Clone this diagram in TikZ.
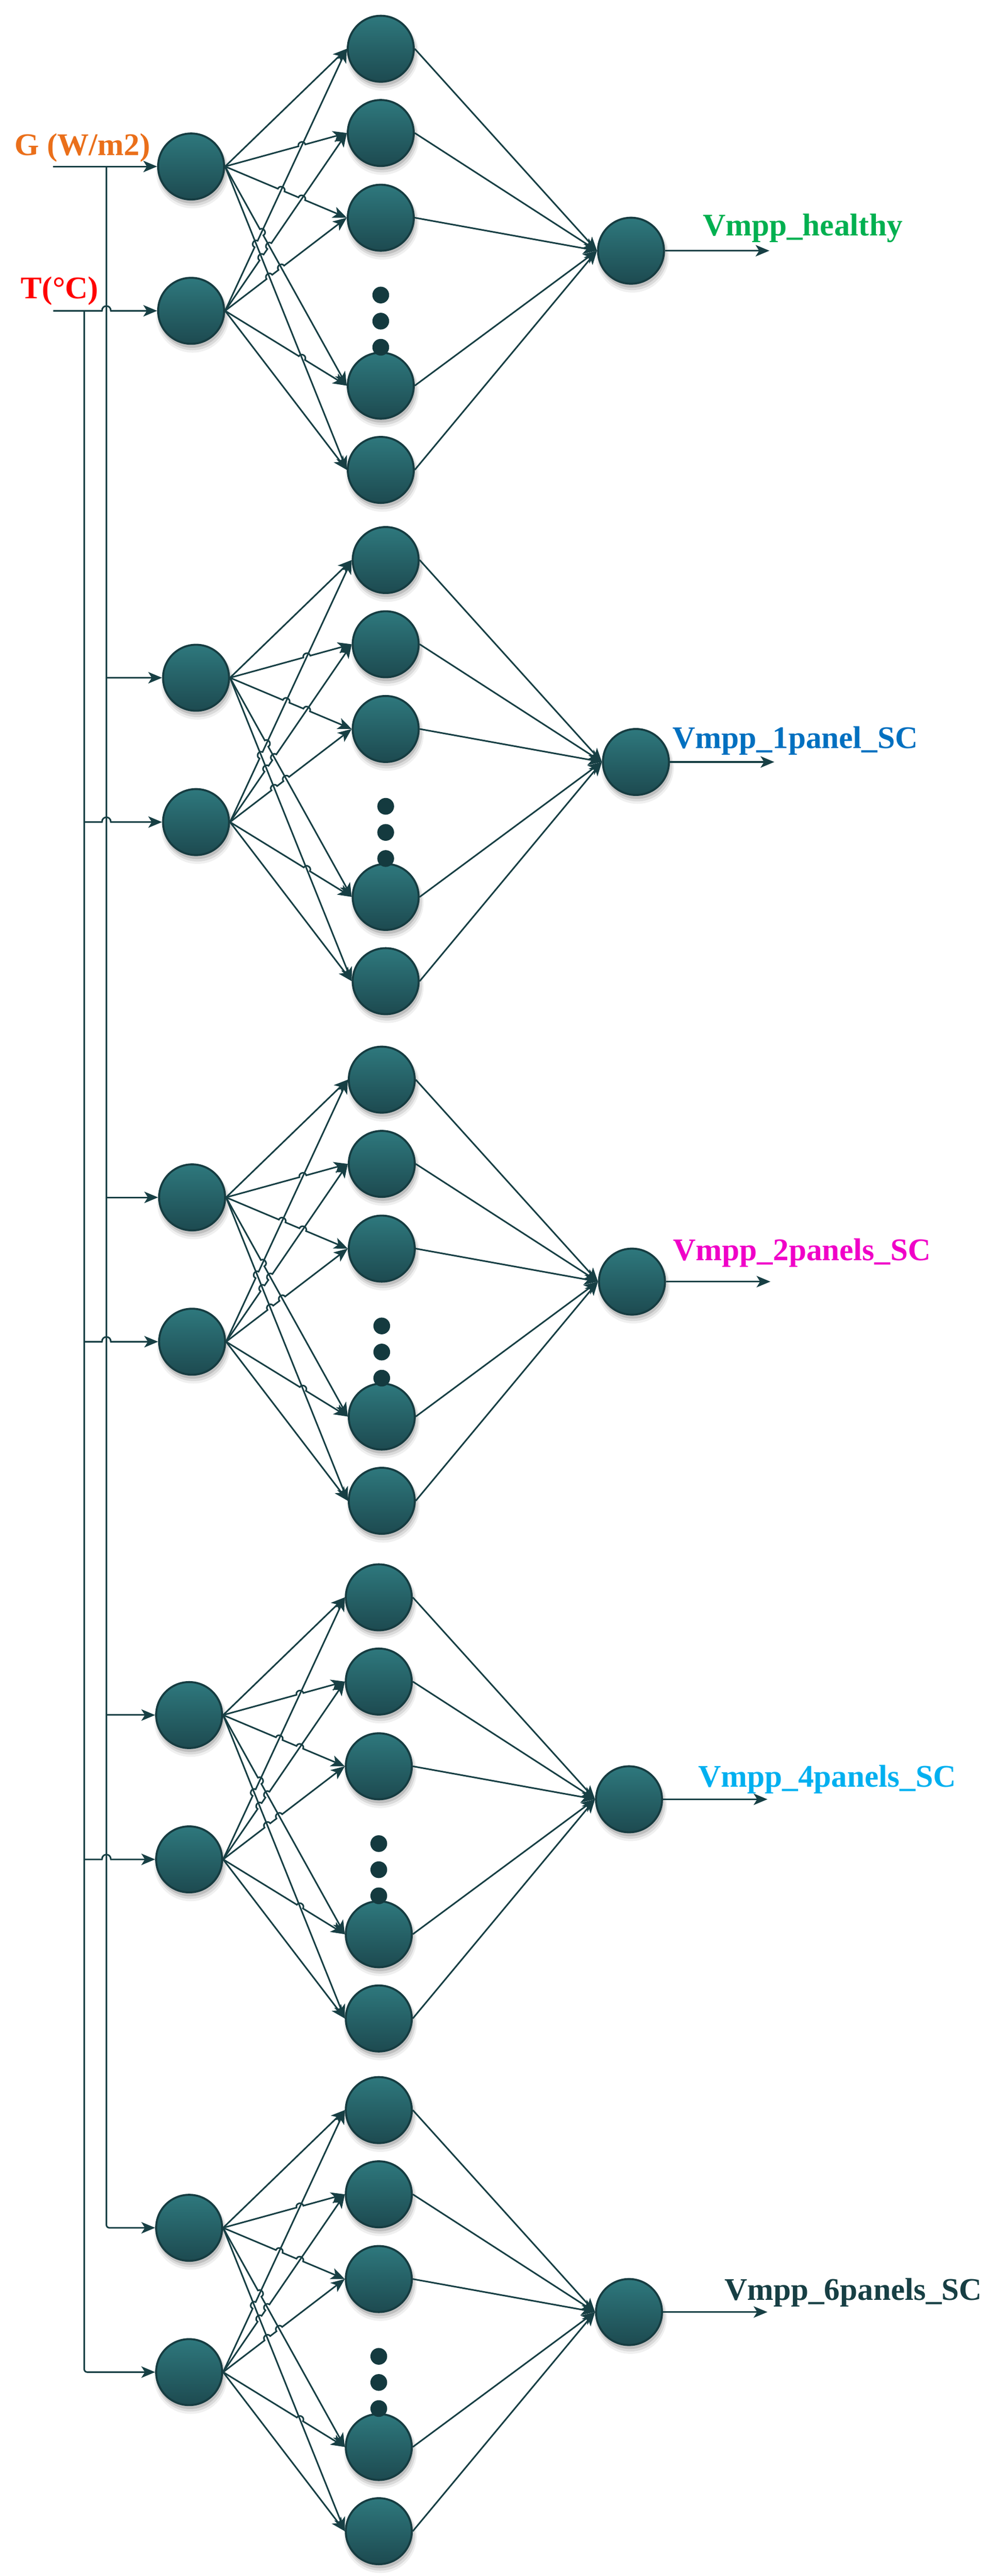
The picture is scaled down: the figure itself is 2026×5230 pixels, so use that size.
\documentclass[tikz,border=0pt]{standalone}
\usepackage{fontspec}
\setmainfont{Liberation Serif}
\usetikzlibrary{arrows.meta,calc}
\definecolor{wirec}{HTML}{173F44}
\definecolor{rimc}{HTML}{163C41}
\definecolor{topc}{HTML}{2E787D}
\definecolor{botc}{HTML}{1D4A50}
\definecolor{dotc}{HTML}{143A3F}
\definecolor{gcol}{HTML}{EA6F1A}
\definecolor{tcol}{HTML}{FF0000}
\definecolor{cone}{HTML}{00B050}
\definecolor{ctwo}{HTML}{0070C0}
\definecolor{cthree}{HTML}{F000C8}
\definecolor{cfour}{HTML}{00B0F0}
\definecolor{cfive}{HTML}{173F44}
\newcommand\NeuronAt[3]{%
  \fill[black,opacity=0.06] (#2+3,#3+11) circle[radius=74];
  \fill[black,opacity=0.09] (#2+3,#3+9) circle[radius=71];
  \fill[black,opacity=0.12] (#2+2,#3+7) circle[radius=68];
  \node[neuron] (#1) at (#2,#3) {};
}
% line from #1 to #2 with line jumps at fractions #3
\newcommand\JLine[3]{%
  \foreach \s [count=\n] in {#3}{%
    \coordinate (jp\n) at ($(#1)!\s!(#2)$);
    \coordinate (ja\n) at ($(jp\n)!1.8pt!(#1)$);
    \coordinate (jb\n) at ($(jp\n)!1.8pt!(#2)$);
    \coordinate (jc\n) at ($(ja\n)!2.3pt!90:(#2)$);
    \coordinate (jd\n) at ($(jb\n)!2.3pt!-90:(#1)$);
  }%
  \draw[wire,tip] (#1) \foreach \s [count=\n] in {#3}{ -- (ja\n) .. controls (jc\n) and (jd\n) .. (jb\n)} -- (#2);
}
\begin{document}
\begin{tikzpicture}[x=0.25pt,y=-0.25pt,
  wire/.style={draw=wirec,line width=0.8pt},
  tip/.style={-{Stealth[length=7pt,width=5.8pt,inset=1.8pt]}},
  neuron/.style={circle,minimum size=33.5pt,inner sep=0pt,draw=rimc,line width=1pt,top color=topc,bottom color=botc},
  dotn/.style={circle,minimum size=8.5pt,inner sep=0pt,fill=dotc},
  lab/.style={anchor=base west,inner sep=0pt,font=\fontsize{16pt}{19pt}\selectfont\bfseries}]
\useasboundingbox (0,0) rectangle (2026,5230);

\foreach \b/\dx/\dy in {1/0/0,2/10/1038,3/2/2093,4/-4/3144,5/-4/4185}{
  \NeuronAt{IA\b}{388+\dx}{338+\dy}
  \NeuronAt{IB\b}{388+\dx}{631+\dy}
  \foreach \h/\hy in {1/99,2/270,3/442,4/783,5/954}{
    \NeuronAt{H\b\h}{773+\dx}{\hy+\dy}
  }
  \NeuronAt{O\b}{1281+\dx}{509+\dy}
  \foreach \k/\ky in {1/599,2/652,3/705}{\node[dotn] (D\b\k) at (773+\dx,\ky+\dy) {};}
  \coordinate (E\b) at (1562+\dx,509+\dy);
  % input -> hidden (flatter line jumps at crossings)
  \draw[wire,tip] (IA\b.east) -- (H\b1.west);
  \JLine{IA\b.east}{H\b2.west}{0.631}
  \JLine{IA\b.east}{H\b3.west}{0.461,0.630}
  \JLine{IA\b.east}{H\b4.west}{0.300}
  \draw[wire,tip] (IA\b.east) -- (H\b5.west);
  \JLine{IB\b.east}{H\b1.west}{0.255}
  \JLine{IB\b.east}{H\b2.west}{0.300,0.364}
  \JLine{IB\b.east}{H\b3.west}{0.364,0.462}
  \JLine{IB\b.east}{H\b4.west}{0.631}
  \draw[wire,tip] (IB\b.east) -- (H\b5.west);
  % hidden -> output
  \foreach \h in {1,...,5}{\draw[wire,tip] (H\b\h.east) -- (O\b.west);}
  \draw[wire,tip] (O\b.east) -- (E\b);
}

\coordinate (Gin) at (108,338);
\coordinate (Gj) at (216,338);
\coordinate (Tin) at (108,631);
\coordinate (Tj) at (171,631);
\draw[wire,tip] (Gin) -- (IA1.west);
\draw[wire,tip,rounded corners=1.5pt] (Gj) |- (IA5.west);
\foreach \b in {2,3,4}{\draw[wire,tip] (Gj |- IA\b.west) -- (IA\b.west);}
\draw[wire,tip] (Tin) -- ($(Gj |- Tin)+(-9,0)$) .. controls +(0,-13) and +(0,-13) .. ($(Gj |- Tin)+(9,0)$) -- (IB1.west);
\draw[wire,tip,rounded corners=1.5pt] (Tj) |- (IB5.west);
\foreach \b in {2,3,4}{\draw[wire,tip] (Tj |- IB\b.west) -- ($(Gj |- IB\b.west)+(-9,0)$) .. controls +(0,-13) and +(0,-13) .. ($(Gj |- IB\b.west)+(9,0)$) -- (IB\b.west);}

\node[lab,text=gcol] (Glab) at (29,315) {G (W/m2)};
\node[lab,text=tcol] (Tlab) at (42,606) {T(°C)};
\node[lab,text=cone] (L1) at (1426,479) {Vmpp\_healthy};
\node[lab,text=ctwo] (L2) at (1365,1519) {Vmpp\_1panel\_SC};
\node[lab,text=cthree] (L3) at (1366,2559) {Vmpp\_2panels\_SC};
\node[lab,text=cfour] (L4) at (1417,3628) {Vmpp\_4panels\_SC};
\node[lab,text=cfive] (L5) at (1470,4670) {Vmpp\_6panels\_SC};
\end{tikzpicture}
\end{document}
